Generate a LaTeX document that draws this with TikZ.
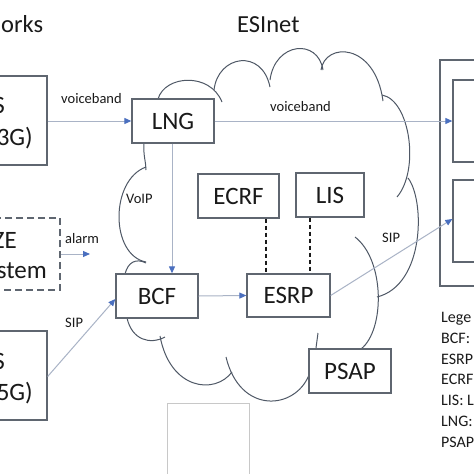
\documentclass[tikz,border=0pt]{standalone}
\usepackage{fontspec}
\setmainfont{Carlito}
\usetikzlibrary{arrows.meta}
\definecolor{boxline}{HTML}{5F6670}
\definecolor{arrline}{HTML}{A9B3C6}
\definecolor{arrhead}{HTML}{4A6FBF}
\definecolor{cloudline}{HTML}{4F5866}
\definecolor{txt}{HTML}{1A1A1A}
\definecolor{faint}{HTML}{C8C8C8}
\begin{document}
\begin{tikzpicture}[x=1pt,y=-1pt,
  netbox/.style={draw=boxline,line width=1.3pt,fill=white,inner sep=0pt,text=txt,font=\fontsize{25}{28}\selectfont},
  arr/.style={draw=arrline,line width=1pt,-{Triangle[length=7pt,width=6pt,color=arrhead]}},
  lbl/.style={inner sep=0pt,text=txt,font=\fontsize{14.5}{16}\selectfont},
  big/.style={inner sep=0pt,text=txt,font=\fontsize{25}{28}\selectfont},
  leg/.style={inner sep=0pt,text=txt,anchor=base west,font=\fontsize{16}{18}\selectfont},
  dashlink/.style={draw=txt,line width=1.1pt,dash pattern=on 4pt off 3pt},
  cloud/.style={draw=cloudline,line width=1pt}]
\useasboundingbox (0,0) rectangle (474,474);
\fill[white] (0,0) rectangle (474,474);

% titles
\node[big,anchor=base west,font=\fontsize{24.5}{28}\selectfont] (ttlleft) at (1,32) {orks};
\node[big,anchor=base west,font=\fontsize{24.5}{28}\selectfont] (ttlmid) at (237,32) {ESInet};

% cloud outline
\draw[cloud] (158,99) .. controls (165,75) and (210,72) .. (222,102);
\draw[cloud] (214,90) .. controls (218,55) and (262,48) .. (270,87);
\draw[cloud] (270,80) .. controls (275,42) and (318,38) .. (323,70);
\draw[cloud] (321,70) .. controls (325,42) and (375,42) .. (383,101);
\draw[cloud] (382,95) .. controls (410,100) and (420,170) .. (397,197);
\draw[cloud] (408,178) .. controls (425,200) and (425,285) .. (377,297);
\draw[cloud] (355,237) .. controls (385,260) and (385,330) .. (361,349);
\draw[cloud] (318,333) -- (316,348);
\draw[cloud] (309,375) .. controls (295,410) and (240,415) .. (226,357);
\draw[cloud] (232,372) .. controls (215,395) and (170,390) .. (160,336);
\draw[cloud] (127,318) .. controls (132,340) and (150,345) .. (165,337);
\draw[cloud] (125,274) .. controls (128,262) and (136,258) .. (146,263);
\draw[cloud] (146,167) .. controls (110,180) and (110,255) .. (146,262);
\draw[cloud] (144,143) .. controls (143,155) and (146,162) .. (146,170);

% left boxes (cut by the page edge)
\node[netbox,minimum width=87pt,minimum height=89pt] (box3g) at (3.5,120.5) {};
\node[big,anchor=base east] (t3a) at (5,113) {S};
\node[big,anchor=base east] (t3b) at (33,145) {3G)};
\node[netbox,dash pattern=on 7pt off 4pt,minimum width=100pt,minimum height=72pt] (boxze) at (10,254) {};
\node[big,anchor=base east] (tza) at (17,248) {ZE};
\node[big,anchor=base east] (tzb) at (47,278) {stem};
\node[netbox,minimum width=87pt,minimum height=89pt] (box5g) at (3.5,375.5) {};
\node[big,anchor=base east] (t5a) at (5,369) {S};
\node[big,anchor=base east] (t5b) at (33,400) {5G)};

% right boxes
\node[netbox,minimum width=70pt,minimum height=226pt] (outer) at (475,173) {};
\node[netbox,minimum width=60pt,minimum height=82pt] (inner1) at (483,121) {};
\node[netbox,minimum width=60pt,minimum height=82pt] (inner2) at (483,221) {};

% faint empty box
\draw[draw=faint,line width=0.8pt] (167,480) -- (167,403) -- (249,403) -- (249,480);

% ESInet elements
\node[netbox,minimum width=82pt,minimum height=44pt] (lng) at (173,121) {LNG};
\node[netbox,minimum width=82pt,minimum height=44pt] (bcf) at (157,296) {BCF};
\node[netbox,minimum width=83pt,minimum height=43pt] (esrp) at (288.5,295.5) {ESRP};
\node[netbox,minimum width=81pt,minimum height=44pt] (ecrf) at (238.5,196) {ECRF};
\node[netbox,minimum width=68pt,minimum height=44pt] (lis) at (330,195) {LIS};
\node[netbox,minimum width=82pt,minimum height=44pt] (psap) at (350,371) {PSAP};

% connectors
\draw[arr] (box3g.east |- lng.west) -- (lng.west);
\draw[arr] (lng.east) -- (inner1.west);
\draw[arr] ([xshift=-1pt]lng.south) -- ([xshift=-1pt]lng.south |- bcf.north);
\draw[arr] (bcf.east) -- (esrp.west);
\draw[dashlink] ([xshift=27.5pt]ecrf.south) -- ([xshift=27.5pt]ecrf.south |- esrp.north);
\draw[dashlink] ([xshift=-20pt]lis.south) -- ([xshift=-20pt]lis.south |- esrp.north);
\draw[arr] (esrp.east) -- ([yshift=2pt]inner2.west);
\coordinate (alarmend) at (90,254);
\draw[arr] (boxze.east) -- (alarmend);
\draw[arr] ([yshift=-1pt]box5g.east) -- ([yshift=-3pt]bcf.west);

% connector labels
\node[lbl,anchor=base west] (lvb1) at (61,103) {voiceband};
\node[lbl,anchor=base west] (lvb2) at (270,111) {voiceband};
\node[lbl,anchor=base west] (lvoip) at (126,203) {VoIP};
\node[lbl,anchor=base west] (lalarm) at (65,243) {alarm};
\node[lbl,anchor=base west] (lsip1) at (65,327) {SIP};
\node[lbl,anchor=base west] (lsip2) at (382,242) {SIP};

% legend (cut by the page edge)
\node[leg] (lg0) at (441,322) {Lege};
\node[leg] (lg1) at (441,343) {BCF:};
\node[leg] (lg2) at (441,364) {ESRP};
\node[leg] (lg3) at (441,384) {ECRF};
\node[leg] (lg4) at (441,405) {LIS: L};
\node[leg] (lg5) at (441,426) {LNG:};
\node[leg] (lg6) at (441,447) {PSAP};
\end{tikzpicture}
\end{document}
